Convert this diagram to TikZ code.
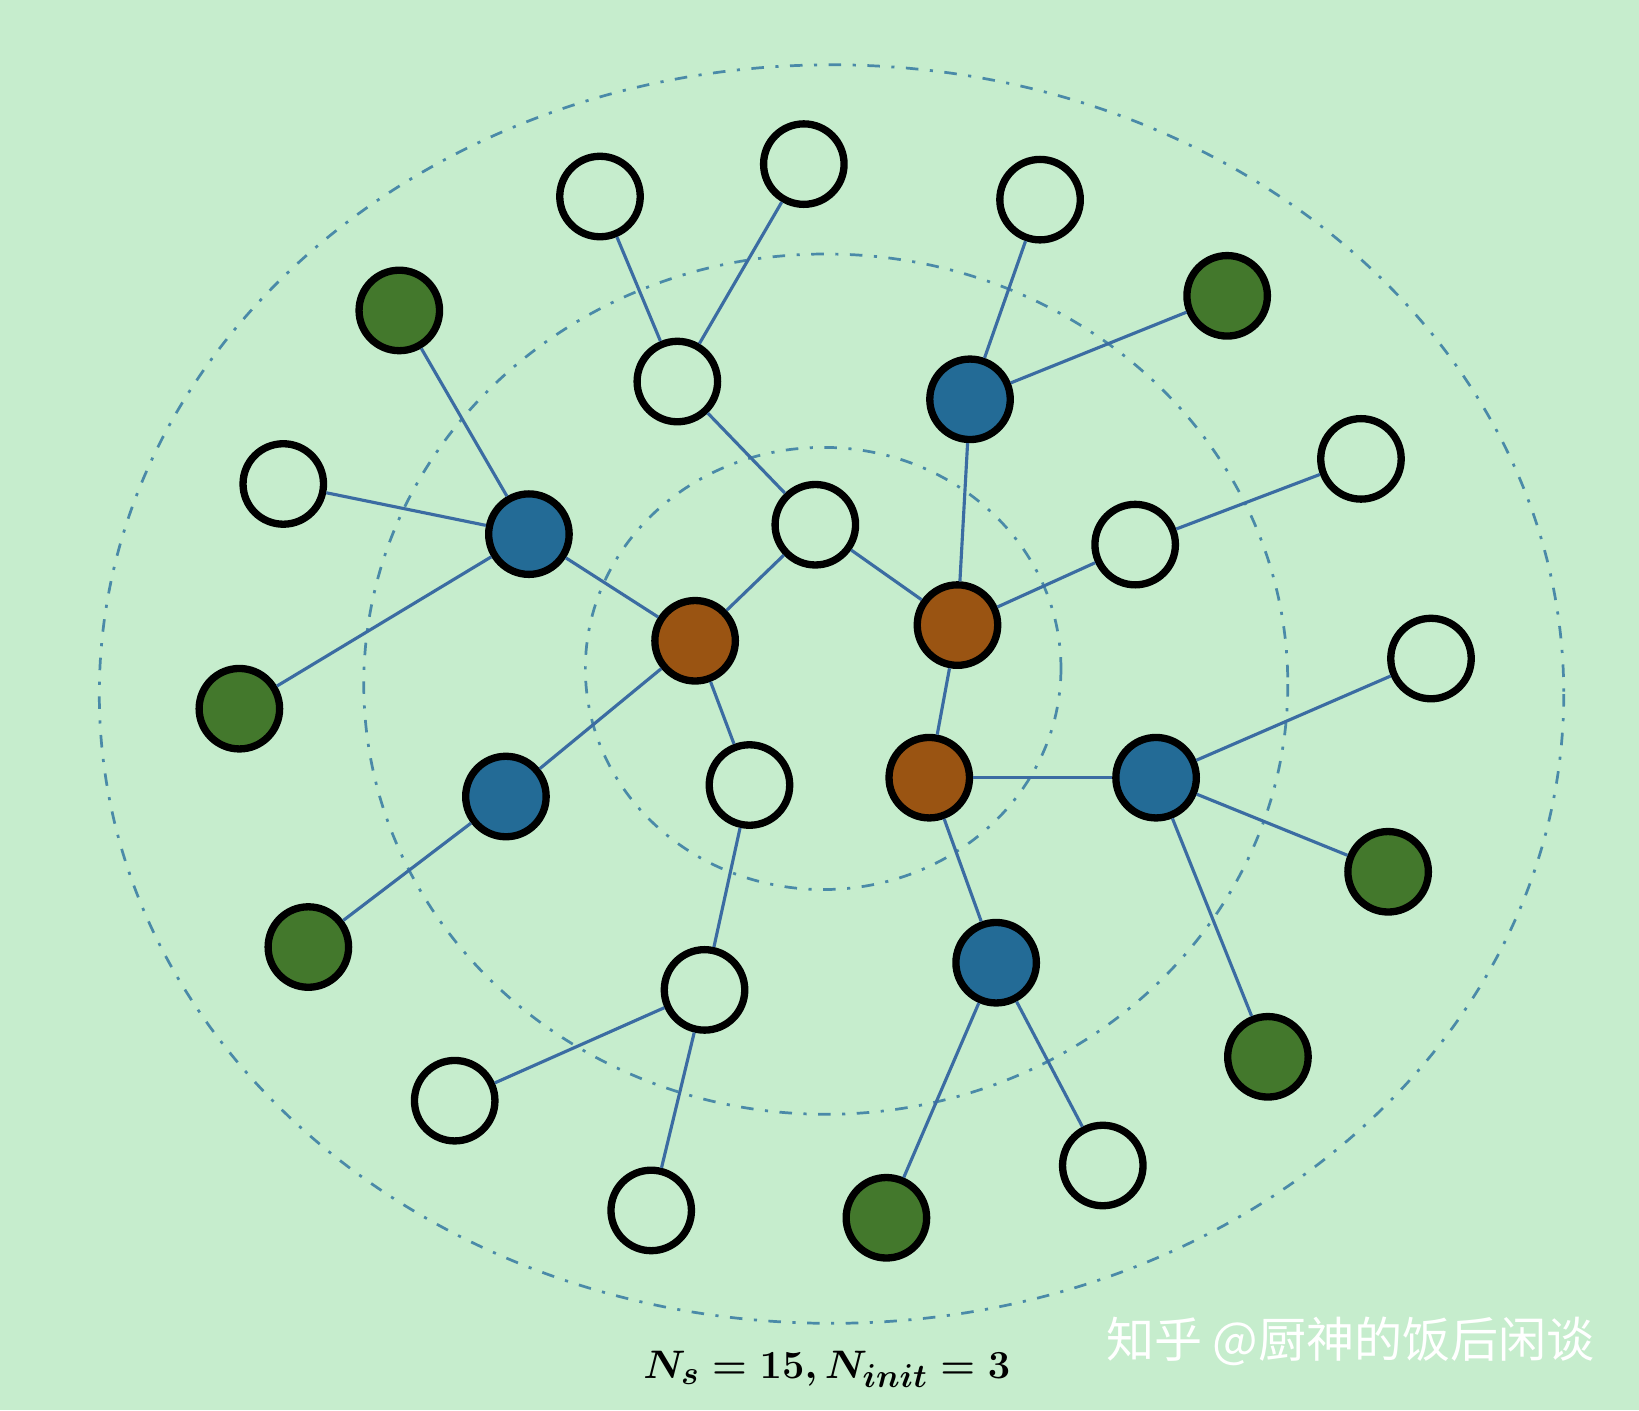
\documentclass[tikz,border=0pt]{standalone}
\usepackage{amsmath}
\usepackage{fontspec}
\newfontfamily\cjk{Noto Sans CJK SC}
\definecolor{bgcol}{HTML}{C6EDCD}
\definecolor{corecol}{HTML}{9A5412}
\definecolor{hubcol}{HTML}{236B96}
\definecolor{tipcol}{HTML}{43782C}
\definecolor{linkcol}{HTML}{3B6CA2}
\definecolor{ringcol}{HTML}{4A8AA8}

\begin{document}
\begin{tikzpicture}
[x=1pt, y=-1pt,
    dot/.style={circle, minimum size=77pt, inner sep=0pt,
    draw=black, line width=7pt},
    core/.style={dot, fill=corecol},
    hub/.style={dot, fill=hubcol},
    tipdot/.style={dot, fill=tipcol},
    free/.style={dot, fill=bgcol},
    link/.style={draw=linkcol, line width=3pt},
    ring/.style={draw=ringcol, line width=2.6pt,
    dash pattern=on 12pt off 11pt on 3pt off 11pt},
    plain/.style={inner sep=0pt},
    ]

    \fill[bgcol] (0,0) rectangle (1568,1349);

    % the three rings
    \draw[ring] (787.5,639.5) ellipse [x radius=227.5, y radius=211.5];
    \draw[ring] (790,654.5) ellipse [x radius=442, y radius=411.5];
    \draw[ring] (795.5,664) ellipse [x radius=700.5, y radius=602];

    \node[core] (core1) at (665,613) {};
    \node[core] (core2) at (916,598) {};
    \node[core] (core3) at (889,744) {};

    \node[hub] (hub1) at (506,511) {};
    \node[hub] (hub2) at (928,382) {};
    \node[hub] (hub3) at (484,762) {};
    \node[hub] (hub4) at (1106,744) {};
    \node[hub] (hub5) at (953,921) {};

    \node[free] (mid) at (780,502) {};
    \node[free] (up) at (648,365) {};
    \node[free] (up1) at (574,188) {};
    \node[free] (up2) at (769,157) {};
    \node[free] (up3) at (995,191) {};
    \node[free] (left1) at (271,463) {};
    \node[free] (right1) at (1086,521) {};
    \node[free] (right2) at (1302,439) {};
    \node[free] (right3) at (1369,630) {};
    \node[free] (down) at (717,751) {};
    \node[free] (down1) at (674,947) {};
    \node[free] (down2) at (435,1053) {};
    \node[free] (down3) at (623,1158) {};
    \node[free] (down4) at (1055,1115) {};

    \node[tipdot] (tip1) at (382,297) {};
    \node[tipdot] (tip2) at (1174,283) {};
    \node[tipdot] (tip3) at (229,678) {};
    \node[tipdot] (tip4) at (295,906) {};
    \node[tipdot] (tip5) at (1328,834) {};
    \node[tipdot] (tip6) at (1213,1011) {};
    \node[tipdot] (tip7) at (848,1165) {};

    \draw[link] (tip1) -- (hub1);
    \draw[link] (left1) -- (hub1);
    \draw[link] (hub1) -- (tip3);
    \draw[link] (hub1) -- (core1);
    \draw[link] (core1) -- (mid);
    \draw[link] (mid) -- (up);
    \draw[link] (up) -- (up1);
    \draw[link] (up) -- (up2);
    \draw[link] (mid) -- (core2);
    \draw[link] (core2) -- (hub2);
    \draw[link] (hub2) -- (up3);
    \draw[link] (hub2) -- (tip2);
    \draw[link] (core2) -- (right1);
    \draw[link] (right1) -- (right2);
    \draw[link] (core2) -- (core3);
    \draw[link] (core3) -- (hub4);
    \draw[link] (hub4) -- (right3);
    \draw[link] (hub4) -- (tip5);
    \draw[link] (hub4) -- (tip6);
    \draw[link] (core3) -- (hub5);
    \draw[link] (hub5) -- (tip7);
    \draw[link] (hub5) -- (down4);
    \draw[link] (core1) -- (hub3);
    \draw[link] (hub3) -- (tip4);
    \draw[link] (core1) -- (down);
    \draw[link] (down) -- (down1);
    \draw[link] (down1) -- (down2);
    \draw[link] (down1) -- (down3);

    \node[plain, scale=1.53] (caption) at (791,1310) {\Huge $\boldsymbol{N_s = 15, N_{init} = 3}$};

    \node[plain, text=white] (watermark) at (1292,1283) {\cjk\fontsize{46}{52}\selectfont 知乎 @厨神的饭后闲谈};

\end{tikzpicture}
\end{document}
